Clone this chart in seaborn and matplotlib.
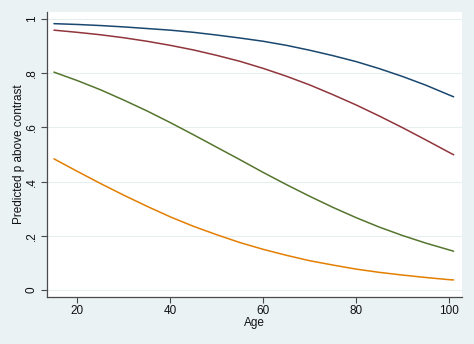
import matplotlib
matplotlib.use("Agg")
import matplotlib.pyplot as plt
import seaborn as sns
import pandas as pd

# Predicted probability of scoring above the contrast, by age, for four groups
age = [15, 20, 25, 30, 35, 40, 45, 50, 55, 60, 65, 70, 75, 80, 85, 90, 95, 100, 101]

group_1 = [0.983, 0.980, 0.976, 0.971, 0.965, 0.959, 0.951, 0.941, 0.930, 0.918,
           0.903, 0.885, 0.865, 0.843, 0.817, 0.788, 0.756, 0.720, 0.713]
group_2 = [0.959, 0.951, 0.942, 0.931, 0.918, 0.903, 0.886, 0.866, 0.844, 0.818,
           0.789, 0.757, 0.721, 0.683, 0.642, 0.599, 0.554, 0.508, 0.499]
group_3 = [0.804, 0.773, 0.739, 0.701, 0.661, 0.618, 0.573, 0.527, 0.481, 0.434,
           0.389, 0.346, 0.305, 0.267, 0.232, 0.201, 0.173, 0.148, 0.143]
group_4 = [0.484, 0.438, 0.393, 0.350, 0.309, 0.270, 0.235, 0.204, 0.175, 0.150,
           0.128, 0.108, 0.092, 0.077, 0.065, 0.055, 0.046, 0.038, 0.037]

series_names = ["1", "2", "3", "4"]
series_values = [group_1, group_2, group_3, group_4]

x_ticks = [20, 40, 60, 80, 100]
y_ticks = [0, 0.2, 0.4, 0.6, 0.8, 1.0]
y_tick_labels = ["0", ".2", ".4", ".6", ".8", "1"]

line_colors = ["#1A476F", "#90353B", "#55752F", "#E37E00"]

rows = []
for name, vals in zip(series_names, series_values):
    for a, p in zip(age, vals):
        rows.append({"Age": a, "p": p, "group": name})
df = pd.DataFrame(rows)

sns.set_theme(style="white")
plt.rcParams["font.family"] = ["Liberation Sans", "DejaVu Sans"]

outer_bg = "#EAF2F3"
axis_col = "#4a4a4a"

fig = plt.figure(figsize=(4.74, 3.44), dpi=100, facecolor=outer_bg)
ax = fig.add_axes([47 / 474, 1 - 297 / 344, (462 - 47) / 474, (297 - 12) / 344])
ax.set_facecolor("white")

sns.lineplot(data=df, x="Age", y="p", hue="group", palette=line_colors,
             hue_order=series_names, legend=False, linewidth=1.1, ax=ax,
             sort=True, estimator=None)

ax.set_xlim(13.5, 102.8)
ax.set_ylim(-0.026, 1.026)

ax.set_xticks(x_ticks)
ax.set_xticklabels([str(t) for t in x_ticks])
ax.set_yticks(y_ticks)
ax.set_yticklabels(y_tick_labels, rotation=90, va="center")

ax.grid(axis="y", color="#E6EEF0", linewidth=0.8)
ax.grid(axis="x", visible=False)
ax.set_axisbelow(True)

for side in ["top", "right"]:
    ax.spines[side].set_visible(False)
for side in ["left", "bottom"]:
    ax.spines[side].set_color(axis_col)
    ax.spines[side].set_linewidth(0.9)

ax.tick_params(axis="both", direction="out", length=4.5, width=0.8,
               color=axis_col, labelsize=8.5, labelcolor="#111111",
               left=True, bottom=True)
ax.tick_params(axis="x", pad=1.5)
ax.tick_params(axis="y", pad=2)

ax.set_xlabel("Age", fontsize=8.5, color="#111111", labelpad=0)
ax.set_ylabel("Predicted p above contrast", fontsize=8.5, color="#111111", labelpad=1)

fig.savefig("out.png", dpi=100, facecolor=outer_bg)
